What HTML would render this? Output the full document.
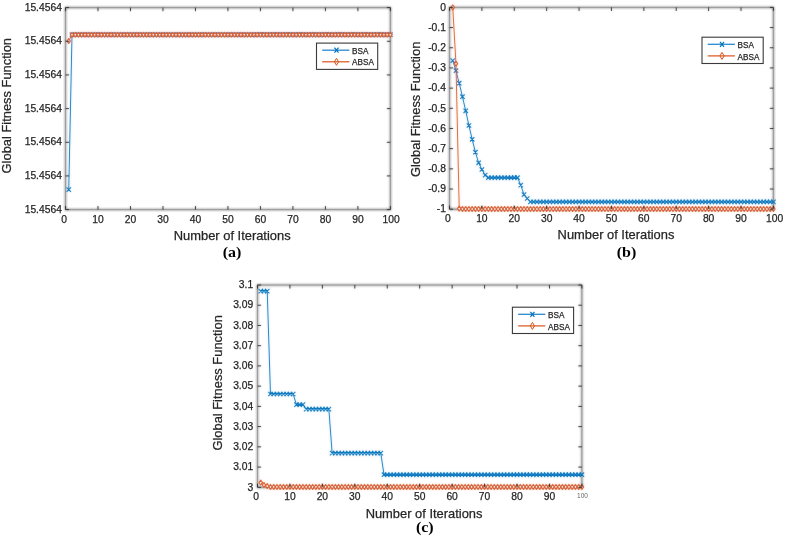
<!DOCTYPE html>
<html><head><meta charset="utf-8"><title>Global fitness convergence plots</title>
<style>html,body{margin:0;padding:0;background:#fff;width:785px;height:537px;overflow:hidden}
svg{display:block}</style></head>
<body><svg width="785" height="537" viewBox="0 0 785 537" font-family="'Liberation Sans', Arial, Helvetica, sans-serif">
<defs><filter id="fa" x="0" y="0" width="785" height="537" filterUnits="userSpaceOnUse"><feGaussianBlur in="SourceGraphic" stdDeviation="0.8" result="b"/><feComposite in="SourceGraphic" in2="b" operator="arithmetic" k1="0" k2="0.2" k3="0.8" k4="0"/></filter><filter id="fd" x="0" y="0" width="785" height="537" filterUnits="userSpaceOnUse"><feGaussianBlur in="SourceGraphic" stdDeviation="0.8" result="b"/><feComposite in="SourceGraphic" in2="b" operator="arithmetic" k1="0" k2="0.75" k3="0.25" k4="0"/></filter></defs>
<rect width="785" height="537" fill="#fff"/>
<g filter="url(#fa)">
<path d="M65.5 7.6H390.4V209.6H65.5Z" fill="none" stroke="#262626" stroke-width="1"/>
<path d="M449.5 7.4H773.4V209.2H449.5Z" fill="none" stroke="#262626" stroke-width="1"/>
<path d="M257.5 285H581.9V487.3H257.5Z" fill="none" stroke="#262626" stroke-width="1"/>
</g>
<g filter="url(#fd)">
<polyline points="68.75,189.6 72,34.7 75.25,34.7 78.5,34.7 81.75,34.7 84.99,34.7 88.24,34.7 91.49,34.7 94.74,34.7 97.99,34.7 101.24,34.7 104.49,34.7 107.74,34.7 110.99,34.7 114.23,34.7 117.48,34.7 120.73,34.7 123.98,34.7 127.23,34.7 130.48,34.7 133.73,34.7 136.98,34.7 140.23,34.7 143.48,34.7 146.72,34.7 149.97,34.7 153.22,34.7 156.47,34.7 159.72,34.7 162.97,34.7 166.22,34.7 169.47,34.7 172.72,34.7 175.97,34.7 179.22,34.7 182.46,34.7 185.71,34.7 188.96,34.7 192.21,34.7 195.46,34.7 198.71,34.7 201.96,34.7 205.21,34.7 208.46,34.7 211.7,34.7 214.95,34.7 218.2,34.7 221.45,34.7 224.7,34.7 227.95,34.7 231.2,34.7 234.45,34.7 237.7,34.7 240.95,34.7 244.19,34.7 247.44,34.7 250.69,34.7 253.94,34.7 257.19,34.7 260.44,34.7 263.69,34.7 266.94,34.7 270.19,34.7 273.44,34.7 276.69,34.7 279.93,34.7 283.18,34.7 286.43,34.7 289.68,34.7 292.93,34.7 296.18,34.7 299.43,34.7 302.68,34.7 305.93,34.7 309.18,34.7 312.42,34.7 315.67,34.7 318.92,34.7 322.17,34.7 325.42,34.7 328.67,34.7 331.92,34.7 335.17,34.7 338.42,34.7 341.66,34.7 344.91,34.7 348.16,34.7 351.41,34.7 354.66,34.7 357.91,34.7 361.16,34.7 364.41,34.7 367.66,34.7 370.91,34.7 374.15,34.7 377.4,34.7 380.65,34.7 383.9,34.7 387.15,34.7 390.4,34.7" fill="none" stroke="#0072BD" stroke-width="1" stroke-linejoin="round"/>
<path d="M66.55 187.4L70.95 191.8M66.55 191.8L70.95 187.4M69.8 32.5L74.2 36.9M69.8 36.9L74.2 32.5M73.05 32.5L77.45 36.9M73.05 36.9L77.45 32.5M76.3 32.5L80.7 36.9M76.3 36.9L80.7 32.5M79.55 32.5L83.95 36.9M79.55 36.9L83.95 32.5M82.79 32.5L87.19 36.9M82.79 36.9L87.19 32.5M86.04 32.5L90.44 36.9M86.04 36.9L90.44 32.5M89.29 32.5L93.69 36.9M89.29 36.9L93.69 32.5M92.54 32.5L96.94 36.9M92.54 36.9L96.94 32.5M95.79 32.5L100.19 36.9M95.79 36.9L100.19 32.5M99.04 32.5L103.44 36.9M99.04 36.9L103.44 32.5M102.29 32.5L106.69 36.9M102.29 36.9L106.69 32.5M105.54 32.5L109.94 36.9M105.54 36.9L109.94 32.5M108.79 32.5L113.19 36.9M108.79 36.9L113.19 32.5M112.03 32.5L116.44 36.9M112.03 36.9L116.44 32.5M115.28 32.5L119.68 36.9M115.28 36.9L119.68 32.5M118.53 32.5L122.93 36.9M118.53 36.9L122.93 32.5M121.78 32.5L126.18 36.9M121.78 36.9L126.18 32.5M125.03 32.5L129.43 36.9M125.03 36.9L129.43 32.5M128.28 32.5L132.68 36.9M128.28 36.9L132.68 32.5M131.53 32.5L135.93 36.9M131.53 36.9L135.93 32.5M134.78 32.5L139.18 36.9M134.78 36.9L139.18 32.5M138.03 32.5L142.43 36.9M138.03 36.9L142.43 32.5M141.28 32.5L145.68 36.9M141.28 36.9L145.68 32.5M144.53 32.5L148.92 36.9M144.53 36.9L148.92 32.5M147.77 32.5L152.17 36.9M147.77 36.9L152.17 32.5M151.02 32.5L155.42 36.9M151.02 36.9L155.42 32.5M154.27 32.5L158.67 36.9M154.27 36.9L158.67 32.5M157.52 32.5L161.92 36.9M157.52 36.9L161.92 32.5M160.77 32.5L165.17 36.9M160.77 36.9L165.17 32.5M164.02 32.5L168.42 36.9M164.02 36.9L168.42 32.5M167.27 32.5L171.67 36.9M167.27 36.9L171.67 32.5M170.52 32.5L174.92 36.9M170.52 36.9L174.92 32.5M173.77 32.5L178.17 36.9M173.77 36.9L178.17 32.5M177.02 32.5L181.41 36.9M177.02 36.9L181.41 32.5M180.26 32.5L184.66 36.9M180.26 36.9L184.66 32.5M183.51 32.5L187.91 36.9M183.51 36.9L187.91 32.5M186.76 32.5L191.16 36.9M186.76 36.9L191.16 32.5M190.01 32.5L194.41 36.9M190.01 36.9L194.41 32.5M193.26 32.5L197.66 36.9M193.26 36.9L197.66 32.5M196.51 32.5L200.91 36.9M196.51 36.9L200.91 32.5M199.76 32.5L204.16 36.9M199.76 36.9L204.16 32.5M203.01 32.5L207.41 36.9M203.01 36.9L207.41 32.5M206.26 32.5L210.66 36.9M206.26 36.9L210.66 32.5M209.5 32.5L213.9 36.9M209.5 36.9L213.9 32.5M212.75 32.5L217.15 36.9M212.75 36.9L217.15 32.5M216 32.5L220.4 36.9M216 36.9L220.4 32.5M219.25 32.5L223.65 36.9M219.25 36.9L223.65 32.5M222.5 32.5L226.9 36.9M222.5 36.9L226.9 32.5M225.75 32.5L230.15 36.9M225.75 36.9L230.15 32.5M229 32.5L233.4 36.9M229 36.9L233.4 32.5M232.25 32.5L236.65 36.9M232.25 36.9L236.65 32.5M235.5 32.5L239.9 36.9M235.5 36.9L239.9 32.5M238.75 32.5L243.15 36.9M238.75 36.9L243.15 32.5M242 32.5L246.39 36.9M242 36.9L246.39 32.5M245.24 32.5L249.64 36.9M245.24 36.9L249.64 32.5M248.49 32.5L252.89 36.9M248.49 36.9L252.89 32.5M251.74 32.5L256.14 36.9M251.74 36.9L256.14 32.5M254.99 32.5L259.39 36.9M254.99 36.9L259.39 32.5M258.24 32.5L262.64 36.9M258.24 36.9L262.64 32.5M261.49 32.5L265.89 36.9M261.49 36.9L265.89 32.5M264.74 32.5L269.14 36.9M264.74 36.9L269.14 32.5M267.99 32.5L272.39 36.9M267.99 36.9L272.39 32.5M271.24 32.5L275.64 36.9M271.24 36.9L275.64 32.5M274.49 32.5L278.88 36.9M274.49 36.9L278.88 32.5M277.73 32.5L282.13 36.9M277.73 36.9L282.13 32.5M280.98 32.5L285.38 36.9M280.98 36.9L285.38 32.5M284.23 32.5L288.63 36.9M284.23 36.9L288.63 32.5M287.48 32.5L291.88 36.9M287.48 36.9L291.88 32.5M290.73 32.5L295.13 36.9M290.73 36.9L295.13 32.5M293.98 32.5L298.38 36.9M293.98 36.9L298.38 32.5M297.23 32.5L301.63 36.9M297.23 36.9L301.63 32.5M300.48 32.5L304.88 36.9M300.48 36.9L304.88 32.5M303.73 32.5L308.13 36.9M303.73 36.9L308.13 32.5M306.98 32.5L311.38 36.9M306.98 36.9L311.38 32.5M310.22 32.5L314.62 36.9M310.22 36.9L314.62 32.5M313.47 32.5L317.87 36.9M313.47 36.9L317.87 32.5M316.72 32.5L321.12 36.9M316.72 36.9L321.12 32.5M319.97 32.5L324.37 36.9M319.97 36.9L324.37 32.5M323.22 32.5L327.62 36.9M323.22 36.9L327.62 32.5M326.47 32.5L330.87 36.9M326.47 36.9L330.87 32.5M329.72 32.5L334.12 36.9M329.72 36.9L334.12 32.5M332.97 32.5L337.37 36.9M332.97 36.9L337.37 32.5M336.22 32.5L340.62 36.9M336.22 36.9L340.62 32.5M339.46 32.5L343.86 36.9M339.46 36.9L343.86 32.5M342.71 32.5L347.11 36.9M342.71 36.9L347.11 32.5M345.96 32.5L350.36 36.9M345.96 36.9L350.36 32.5M349.21 32.5L353.61 36.9M349.21 36.9L353.61 32.5M352.46 32.5L356.86 36.9M352.46 36.9L356.86 32.5M355.71 32.5L360.11 36.9M355.71 36.9L360.11 32.5M358.96 32.5L363.36 36.9M358.96 36.9L363.36 32.5M362.21 32.5L366.61 36.9M362.21 36.9L366.61 32.5M365.46 32.5L369.86 36.9M365.46 36.9L369.86 32.5M368.71 32.5L373.11 36.9M368.71 36.9L373.11 32.5M371.95 32.5L376.35 36.9M371.95 36.9L376.35 32.5M375.2 32.5L379.6 36.9M375.2 36.9L379.6 32.5M378.45 32.5L382.85 36.9M378.45 36.9L382.85 32.5M381.7 32.5L386.1 36.9M381.7 36.9L386.1 32.5M384.95 32.5L389.35 36.9M384.95 36.9L389.35 32.5M388.2 32.5L392.6 36.9M388.2 36.9L392.6 32.5" fill="none" stroke="#0072BD" stroke-width="1.15"/>
<polyline points="68.75,41 72,34.7 75.25,34.7 78.5,34.7 81.75,34.7 84.99,34.7 88.24,34.7 91.49,34.7 94.74,34.7 97.99,34.7 101.24,34.7 104.49,34.7 107.74,34.7 110.99,34.7 114.23,34.7 117.48,34.7 120.73,34.7 123.98,34.7 127.23,34.7 130.48,34.7 133.73,34.7 136.98,34.7 140.23,34.7 143.48,34.7 146.72,34.7 149.97,34.7 153.22,34.7 156.47,34.7 159.72,34.7 162.97,34.7 166.22,34.7 169.47,34.7 172.72,34.7 175.97,34.7 179.22,34.7 182.46,34.7 185.71,34.7 188.96,34.7 192.21,34.7 195.46,34.7 198.71,34.7 201.96,34.7 205.21,34.7 208.46,34.7 211.7,34.7 214.95,34.7 218.2,34.7 221.45,34.7 224.7,34.7 227.95,34.7 231.2,34.7 234.45,34.7 237.7,34.7 240.95,34.7 244.19,34.7 247.44,34.7 250.69,34.7 253.94,34.7 257.19,34.7 260.44,34.7 263.69,34.7 266.94,34.7 270.19,34.7 273.44,34.7 276.69,34.7 279.93,34.7 283.18,34.7 286.43,34.7 289.68,34.7 292.93,34.7 296.18,34.7 299.43,34.7 302.68,34.7 305.93,34.7 309.18,34.7 312.42,34.7 315.67,34.7 318.92,34.7 322.17,34.7 325.42,34.7 328.67,34.7 331.92,34.7 335.17,34.7 338.42,34.7 341.66,34.7 344.91,34.7 348.16,34.7 351.41,34.7 354.66,34.7 357.91,34.7 361.16,34.7 364.41,34.7 367.66,34.7 370.91,34.7 374.15,34.7 377.4,34.7 380.65,34.7 383.9,34.7 387.15,34.7 390.4,34.7" fill="none" stroke="#D95319" stroke-width="1" stroke-linejoin="round"/>
<g fill="#fff" stroke="#D95319" stroke-width="1.2" stroke-linejoin="round"><path d="M68.75 38.6l1.7 2.4l-1.7 2.4l-1.7 -2.4z"/><path d="M72 32.3l1.7 2.4l-1.7 2.4l-1.7 -2.4z"/><path d="M75.25 32.3l1.7 2.4l-1.7 2.4l-1.7 -2.4z"/><path d="M78.5 32.3l1.7 2.4l-1.7 2.4l-1.7 -2.4z"/><path d="M81.75 32.3l1.7 2.4l-1.7 2.4l-1.7 -2.4z"/><path d="M84.99 32.3l1.7 2.4l-1.7 2.4l-1.7 -2.4z"/><path d="M88.24 32.3l1.7 2.4l-1.7 2.4l-1.7 -2.4z"/><path d="M91.49 32.3l1.7 2.4l-1.7 2.4l-1.7 -2.4z"/><path d="M94.74 32.3l1.7 2.4l-1.7 2.4l-1.7 -2.4z"/><path d="M97.99 32.3l1.7 2.4l-1.7 2.4l-1.7 -2.4z"/><path d="M101.24 32.3l1.7 2.4l-1.7 2.4l-1.7 -2.4z"/><path d="M104.49 32.3l1.7 2.4l-1.7 2.4l-1.7 -2.4z"/><path d="M107.74 32.3l1.7 2.4l-1.7 2.4l-1.7 -2.4z"/><path d="M110.99 32.3l1.7 2.4l-1.7 2.4l-1.7 -2.4z"/><path d="M114.23 32.3l1.7 2.4l-1.7 2.4l-1.7 -2.4z"/><path d="M117.48 32.3l1.7 2.4l-1.7 2.4l-1.7 -2.4z"/><path d="M120.73 32.3l1.7 2.4l-1.7 2.4l-1.7 -2.4z"/><path d="M123.98 32.3l1.7 2.4l-1.7 2.4l-1.7 -2.4z"/><path d="M127.23 32.3l1.7 2.4l-1.7 2.4l-1.7 -2.4z"/><path d="M130.48 32.3l1.7 2.4l-1.7 2.4l-1.7 -2.4z"/><path d="M133.73 32.3l1.7 2.4l-1.7 2.4l-1.7 -2.4z"/><path d="M136.98 32.3l1.7 2.4l-1.7 2.4l-1.7 -2.4z"/><path d="M140.23 32.3l1.7 2.4l-1.7 2.4l-1.7 -2.4z"/><path d="M143.48 32.3l1.7 2.4l-1.7 2.4l-1.7 -2.4z"/><path d="M146.72 32.3l1.7 2.4l-1.7 2.4l-1.7 -2.4z"/><path d="M149.97 32.3l1.7 2.4l-1.7 2.4l-1.7 -2.4z"/><path d="M153.22 32.3l1.7 2.4l-1.7 2.4l-1.7 -2.4z"/><path d="M156.47 32.3l1.7 2.4l-1.7 2.4l-1.7 -2.4z"/><path d="M159.72 32.3l1.7 2.4l-1.7 2.4l-1.7 -2.4z"/><path d="M162.97 32.3l1.7 2.4l-1.7 2.4l-1.7 -2.4z"/><path d="M166.22 32.3l1.7 2.4l-1.7 2.4l-1.7 -2.4z"/><path d="M169.47 32.3l1.7 2.4l-1.7 2.4l-1.7 -2.4z"/><path d="M172.72 32.3l1.7 2.4l-1.7 2.4l-1.7 -2.4z"/><path d="M175.97 32.3l1.7 2.4l-1.7 2.4l-1.7 -2.4z"/><path d="M179.22 32.3l1.7 2.4l-1.7 2.4l-1.7 -2.4z"/><path d="M182.46 32.3l1.7 2.4l-1.7 2.4l-1.7 -2.4z"/><path d="M185.71 32.3l1.7 2.4l-1.7 2.4l-1.7 -2.4z"/><path d="M188.96 32.3l1.7 2.4l-1.7 2.4l-1.7 -2.4z"/><path d="M192.21 32.3l1.7 2.4l-1.7 2.4l-1.7 -2.4z"/><path d="M195.46 32.3l1.7 2.4l-1.7 2.4l-1.7 -2.4z"/><path d="M198.71 32.3l1.7 2.4l-1.7 2.4l-1.7 -2.4z"/><path d="M201.96 32.3l1.7 2.4l-1.7 2.4l-1.7 -2.4z"/><path d="M205.21 32.3l1.7 2.4l-1.7 2.4l-1.7 -2.4z"/><path d="M208.46 32.3l1.7 2.4l-1.7 2.4l-1.7 -2.4z"/><path d="M211.7 32.3l1.7 2.4l-1.7 2.4l-1.7 -2.4z"/><path d="M214.95 32.3l1.7 2.4l-1.7 2.4l-1.7 -2.4z"/><path d="M218.2 32.3l1.7 2.4l-1.7 2.4l-1.7 -2.4z"/><path d="M221.45 32.3l1.7 2.4l-1.7 2.4l-1.7 -2.4z"/><path d="M224.7 32.3l1.7 2.4l-1.7 2.4l-1.7 -2.4z"/><path d="M227.95 32.3l1.7 2.4l-1.7 2.4l-1.7 -2.4z"/><path d="M231.2 32.3l1.7 2.4l-1.7 2.4l-1.7 -2.4z"/><path d="M234.45 32.3l1.7 2.4l-1.7 2.4l-1.7 -2.4z"/><path d="M237.7 32.3l1.7 2.4l-1.7 2.4l-1.7 -2.4z"/><path d="M240.95 32.3l1.7 2.4l-1.7 2.4l-1.7 -2.4z"/><path d="M244.19 32.3l1.7 2.4l-1.7 2.4l-1.7 -2.4z"/><path d="M247.44 32.3l1.7 2.4l-1.7 2.4l-1.7 -2.4z"/><path d="M250.69 32.3l1.7 2.4l-1.7 2.4l-1.7 -2.4z"/><path d="M253.94 32.3l1.7 2.4l-1.7 2.4l-1.7 -2.4z"/><path d="M257.19 32.3l1.7 2.4l-1.7 2.4l-1.7 -2.4z"/><path d="M260.44 32.3l1.7 2.4l-1.7 2.4l-1.7 -2.4z"/><path d="M263.69 32.3l1.7 2.4l-1.7 2.4l-1.7 -2.4z"/><path d="M266.94 32.3l1.7 2.4l-1.7 2.4l-1.7 -2.4z"/><path d="M270.19 32.3l1.7 2.4l-1.7 2.4l-1.7 -2.4z"/><path d="M273.44 32.3l1.7 2.4l-1.7 2.4l-1.7 -2.4z"/><path d="M276.69 32.3l1.7 2.4l-1.7 2.4l-1.7 -2.4z"/><path d="M279.93 32.3l1.7 2.4l-1.7 2.4l-1.7 -2.4z"/><path d="M283.18 32.3l1.7 2.4l-1.7 2.4l-1.7 -2.4z"/><path d="M286.43 32.3l1.7 2.4l-1.7 2.4l-1.7 -2.4z"/><path d="M289.68 32.3l1.7 2.4l-1.7 2.4l-1.7 -2.4z"/><path d="M292.93 32.3l1.7 2.4l-1.7 2.4l-1.7 -2.4z"/><path d="M296.18 32.3l1.7 2.4l-1.7 2.4l-1.7 -2.4z"/><path d="M299.43 32.3l1.7 2.4l-1.7 2.4l-1.7 -2.4z"/><path d="M302.68 32.3l1.7 2.4l-1.7 2.4l-1.7 -2.4z"/><path d="M305.93 32.3l1.7 2.4l-1.7 2.4l-1.7 -2.4z"/><path d="M309.18 32.3l1.7 2.4l-1.7 2.4l-1.7 -2.4z"/><path d="M312.42 32.3l1.7 2.4l-1.7 2.4l-1.7 -2.4z"/><path d="M315.67 32.3l1.7 2.4l-1.7 2.4l-1.7 -2.4z"/><path d="M318.92 32.3l1.7 2.4l-1.7 2.4l-1.7 -2.4z"/><path d="M322.17 32.3l1.7 2.4l-1.7 2.4l-1.7 -2.4z"/><path d="M325.42 32.3l1.7 2.4l-1.7 2.4l-1.7 -2.4z"/><path d="M328.67 32.3l1.7 2.4l-1.7 2.4l-1.7 -2.4z"/><path d="M331.92 32.3l1.7 2.4l-1.7 2.4l-1.7 -2.4z"/><path d="M335.17 32.3l1.7 2.4l-1.7 2.4l-1.7 -2.4z"/><path d="M338.42 32.3l1.7 2.4l-1.7 2.4l-1.7 -2.4z"/><path d="M341.66 32.3l1.7 2.4l-1.7 2.4l-1.7 -2.4z"/><path d="M344.91 32.3l1.7 2.4l-1.7 2.4l-1.7 -2.4z"/><path d="M348.16 32.3l1.7 2.4l-1.7 2.4l-1.7 -2.4z"/><path d="M351.41 32.3l1.7 2.4l-1.7 2.4l-1.7 -2.4z"/><path d="M354.66 32.3l1.7 2.4l-1.7 2.4l-1.7 -2.4z"/><path d="M357.91 32.3l1.7 2.4l-1.7 2.4l-1.7 -2.4z"/><path d="M361.16 32.3l1.7 2.4l-1.7 2.4l-1.7 -2.4z"/><path d="M364.41 32.3l1.7 2.4l-1.7 2.4l-1.7 -2.4z"/><path d="M367.66 32.3l1.7 2.4l-1.7 2.4l-1.7 -2.4z"/><path d="M370.91 32.3l1.7 2.4l-1.7 2.4l-1.7 -2.4z"/><path d="M374.15 32.3l1.7 2.4l-1.7 2.4l-1.7 -2.4z"/><path d="M377.4 32.3l1.7 2.4l-1.7 2.4l-1.7 -2.4z"/><path d="M380.65 32.3l1.7 2.4l-1.7 2.4l-1.7 -2.4z"/><path d="M383.9 32.3l1.7 2.4l-1.7 2.4l-1.7 -2.4z"/><path d="M387.15 32.3l1.7 2.4l-1.7 2.4l-1.7 -2.4z"/><path d="M390.4 32.3l1.7 2.4l-1.7 2.4l-1.7 -2.4z"/></g>
<polyline points="452.74,60.6 455.98,70.7 459.22,83.2 462.46,96.7 465.69,110.8 468.93,125.5 472.17,139.3 475.41,152.2 478.65,162.8 481.89,169.5 485.13,175.1 488.37,177.7 491.61,177.7 494.85,177.7 498.08,177.7 501.32,177.7 504.56,177.7 507.8,177.7 511.04,177.7 514.28,177.7 517.52,177.7 520.76,185.1 524,194.6 527.24,198.5 530.48,201.9 533.71,201.9 536.95,201.9 540.19,201.9 543.43,201.9 546.67,201.9 549.91,201.9 553.15,201.9 556.39,201.9 559.63,201.9 562.87,201.9 566.1,201.9 569.34,201.9 572.58,201.9 575.82,201.9 579.06,201.9 582.3,201.9 585.54,201.9 588.78,201.9 592.02,201.9 595.25,201.9 598.49,201.9 601.73,201.9 604.97,201.9 608.21,201.9 611.45,201.9 614.69,201.9 617.93,201.9 621.17,201.9 624.41,201.9 627.64,201.9 630.88,201.9 634.12,201.9 637.36,201.9 640.6,201.9 643.84,201.9 647.08,201.9 650.32,201.9 653.56,201.9 656.8,201.9 660.03,201.9 663.27,201.9 666.51,201.9 669.75,201.9 672.99,201.9 676.23,201.9 679.47,201.9 682.71,201.9 685.95,201.9 689.19,201.9 692.42,201.9 695.66,201.9 698.9,201.9 702.14,201.9 705.38,201.9 708.62,201.9 711.86,201.9 715.1,201.9 718.34,201.9 721.58,201.9 724.81,201.9 728.05,201.9 731.29,201.9 734.53,201.9 737.77,201.9 741.01,201.9 744.25,201.9 747.49,201.9 750.73,201.9 753.97,201.9 757.2,201.9 760.44,201.9 763.68,201.9 766.92,201.9 770.16,201.9 773.4,201.9" fill="none" stroke="#0072BD" stroke-width="1" stroke-linejoin="round"/>
<path d="M450.54 58.4L454.94 62.8M450.54 62.8L454.94 58.4M453.78 68.5L458.18 72.9M453.78 72.9L458.18 68.5M457.02 81L461.42 85.4M457.02 85.4L461.42 81M460.26 94.5L464.66 98.9M460.26 98.9L464.66 94.5M463.5 108.6L467.89 113M463.5 113L467.89 108.6M466.73 123.3L471.13 127.7M466.73 127.7L471.13 123.3M469.97 137.1L474.37 141.5M469.97 141.5L474.37 137.1M473.21 150L477.61 154.4M473.21 154.4L477.61 150M476.45 160.6L480.85 165M476.45 165L480.85 160.6M479.69 167.3L484.09 171.7M479.69 171.7L484.09 167.3M482.93 172.9L487.33 177.3M482.93 177.3L487.33 172.9M486.17 175.5L490.57 179.9M486.17 179.9L490.57 175.5M489.41 175.5L493.81 179.9M489.41 179.9L493.81 175.5M492.65 175.5L497.05 179.9M492.65 179.9L497.05 175.5M495.88 175.5L500.28 179.9M495.88 179.9L500.28 175.5M499.12 175.5L503.52 179.9M499.12 179.9L503.52 175.5M502.36 175.5L506.76 179.9M502.36 179.9L506.76 175.5M505.6 175.5L510 179.9M505.6 179.9L510 175.5M508.84 175.5L513.24 179.9M508.84 179.9L513.24 175.5M512.08 175.5L516.48 179.9M512.08 179.9L516.48 175.5M515.32 175.5L519.72 179.9M515.32 179.9L519.72 175.5M518.56 182.9L522.96 187.3M518.56 187.3L522.96 182.9M521.8 192.4L526.2 196.8M521.8 196.8L526.2 192.4M525.04 196.3L529.44 200.7M525.04 200.7L529.44 196.3M528.27 199.7L532.68 204.1M528.27 204.1L532.68 199.7M531.51 199.7L535.91 204.1M531.51 204.1L535.91 199.7M534.75 199.7L539.15 204.1M534.75 204.1L539.15 199.7M537.99 199.7L542.39 204.1M537.99 204.1L542.39 199.7M541.23 199.7L545.63 204.1M541.23 204.1L545.63 199.7M544.47 199.7L548.87 204.1M544.47 204.1L548.87 199.7M547.71 199.7L552.11 204.1M547.71 204.1L552.11 199.7M550.95 199.7L555.35 204.1M550.95 204.1L555.35 199.7M554.19 199.7L558.59 204.1M554.19 204.1L558.59 199.7M557.43 199.7L561.83 204.1M557.43 204.1L561.83 199.7M560.66 199.7L565.07 204.1M560.66 204.1L565.07 199.7M563.9 199.7L568.3 204.1M563.9 204.1L568.3 199.7M567.14 199.7L571.54 204.1M567.14 204.1L571.54 199.7M570.38 199.7L574.78 204.1M570.38 204.1L574.78 199.7M573.62 199.7L578.02 204.1M573.62 204.1L578.02 199.7M576.86 199.7L581.26 204.1M576.86 204.1L581.26 199.7M580.1 199.7L584.5 204.1M580.1 204.1L584.5 199.7M583.34 199.7L587.74 204.1M583.34 204.1L587.74 199.7M586.58 199.7L590.98 204.1M586.58 204.1L590.98 199.7M589.82 199.7L594.22 204.1M589.82 204.1L594.22 199.7M593.05 199.7L597.46 204.1M593.05 204.1L597.46 199.7M596.29 199.7L600.69 204.1M596.29 204.1L600.69 199.7M599.53 199.7L603.93 204.1M599.53 204.1L603.93 199.7M602.77 199.7L607.17 204.1M602.77 204.1L607.17 199.7M606.01 199.7L610.41 204.1M606.01 204.1L610.41 199.7M609.25 199.7L613.65 204.1M609.25 204.1L613.65 199.7M612.49 199.7L616.89 204.1M612.49 204.1L616.89 199.7M615.73 199.7L620.13 204.1M615.73 204.1L620.13 199.7M618.97 199.7L623.37 204.1M618.97 204.1L623.37 199.7M622.21 199.7L626.61 204.1M622.21 204.1L626.61 199.7M625.44 199.7L629.85 204.1M625.44 204.1L629.85 199.7M628.68 199.7L633.08 204.1M628.68 204.1L633.08 199.7M631.92 199.7L636.32 204.1M631.92 204.1L636.32 199.7M635.16 199.7L639.56 204.1M635.16 204.1L639.56 199.7M638.4 199.7L642.8 204.1M638.4 204.1L642.8 199.7M641.64 199.7L646.04 204.1M641.64 204.1L646.04 199.7M644.88 199.7L649.28 204.1M644.88 204.1L649.28 199.7M648.12 199.7L652.52 204.1M648.12 204.1L652.52 199.7M651.36 199.7L655.76 204.1M651.36 204.1L655.76 199.7M654.6 199.7L659 204.1M654.6 204.1L659 199.7M657.83 199.7L662.24 204.1M657.83 204.1L662.24 199.7M661.07 199.7L665.47 204.1M661.07 204.1L665.47 199.7M664.31 199.7L668.71 204.1M664.31 204.1L668.71 199.7M667.55 199.7L671.95 204.1M667.55 204.1L671.95 199.7M670.79 199.7L675.19 204.1M670.79 204.1L675.19 199.7M674.03 199.7L678.43 204.1M674.03 204.1L678.43 199.7M677.27 199.7L681.67 204.1M677.27 204.1L681.67 199.7M680.51 199.7L684.91 204.1M680.51 204.1L684.91 199.7M683.75 199.7L688.15 204.1M683.75 204.1L688.15 199.7M686.99 199.7L691.39 204.1M686.99 204.1L691.39 199.7M690.22 199.7L694.62 204.1M690.22 204.1L694.62 199.7M693.46 199.7L697.86 204.1M693.46 204.1L697.86 199.7M696.7 199.7L701.1 204.1M696.7 204.1L701.1 199.7M699.94 199.7L704.34 204.1M699.94 204.1L704.34 199.7M703.18 199.7L707.58 204.1M703.18 204.1L707.58 199.7M706.42 199.7L710.82 204.1M706.42 204.1L710.82 199.7M709.66 199.7L714.06 204.1M709.66 204.1L714.06 199.7M712.9 199.7L717.3 204.1M712.9 204.1L717.3 199.7M716.14 199.7L720.54 204.1M716.14 204.1L720.54 199.7M719.38 199.7L723.78 204.1M719.38 204.1L723.78 199.7M722.61 199.7L727.01 204.1M722.61 204.1L727.01 199.7M725.85 199.7L730.25 204.1M725.85 204.1L730.25 199.7M729.09 199.7L733.49 204.1M729.09 204.1L733.49 199.7M732.33 199.7L736.73 204.1M732.33 204.1L736.73 199.7M735.57 199.7L739.97 204.1M735.57 204.1L739.97 199.7M738.81 199.7L743.21 204.1M738.81 204.1L743.21 199.7M742.05 199.7L746.45 204.1M742.05 204.1L746.45 199.7M745.29 199.7L749.69 204.1M745.29 204.1L749.69 199.7M748.53 199.7L752.93 204.1M748.53 204.1L752.93 199.7M751.77 199.7L756.17 204.1M751.77 204.1L756.17 199.7M755 199.7L759.4 204.1M755 204.1L759.4 199.7M758.24 199.7L762.64 204.1M758.24 204.1L762.64 199.7M761.48 199.7L765.88 204.1M761.48 204.1L765.88 199.7M764.72 199.7L769.12 204.1M764.72 204.1L769.12 199.7M767.96 199.7L772.36 204.1M767.96 204.1L772.36 199.7M771.2 199.7L775.6 204.1M771.2 204.1L775.6 199.7" fill="none" stroke="#0072BD" stroke-width="1.15"/>
<polyline points="452.74,7.4 455.98,63.7 459.22,208.6 462.46,209 465.69,209 468.93,209 472.17,209 475.41,209 478.65,209 481.89,209 485.13,209 488.37,209 491.61,209 494.85,209 498.08,209 501.32,209 504.56,209 507.8,209 511.04,209 514.28,209 517.52,209 520.76,209 524,209 527.24,209 530.48,209 533.71,209 536.95,209 540.19,209 543.43,209 546.67,209 549.91,209 553.15,209 556.39,209 559.63,209 562.87,209 566.1,209 569.34,209 572.58,209 575.82,209 579.06,209 582.3,209 585.54,209 588.78,209 592.02,209 595.25,209 598.49,209 601.73,209 604.97,209 608.21,209 611.45,209 614.69,209 617.93,209 621.17,209 624.41,209 627.64,209 630.88,209 634.12,209 637.36,209 640.6,209 643.84,209 647.08,209 650.32,209 653.56,209 656.8,209 660.03,209 663.27,209 666.51,209 669.75,209 672.99,209 676.23,209 679.47,209 682.71,209 685.95,209 689.19,209 692.42,209 695.66,209 698.9,209 702.14,209 705.38,209 708.62,209 711.86,209 715.1,209 718.34,209 721.58,209 724.81,209 728.05,209 731.29,209 734.53,209 737.77,209 741.01,209 744.25,209 747.49,209 750.73,209 753.97,209 757.2,209 760.44,209 763.68,209 766.92,209 770.16,209 773.4,209" fill="none" stroke="#D95319" stroke-width="1" stroke-linejoin="round"/>
<g fill="#fff" stroke="#D95319" stroke-width="1.2" stroke-linejoin="round"><path d="M452.74 5l1.7 2.4l-1.7 2.4l-1.7 -2.4z"/><path d="M455.98 61.3l1.7 2.4l-1.7 2.4l-1.7 -2.4z"/><path d="M459.22 206.2l1.7 2.4l-1.7 2.4l-1.7 -2.4z"/><path d="M462.46 206.6l1.7 2.4l-1.7 2.4l-1.7 -2.4z"/><path d="M465.69 206.6l1.7 2.4l-1.7 2.4l-1.7 -2.4z"/><path d="M468.93 206.6l1.7 2.4l-1.7 2.4l-1.7 -2.4z"/><path d="M472.17 206.6l1.7 2.4l-1.7 2.4l-1.7 -2.4z"/><path d="M475.41 206.6l1.7 2.4l-1.7 2.4l-1.7 -2.4z"/><path d="M478.65 206.6l1.7 2.4l-1.7 2.4l-1.7 -2.4z"/><path d="M481.89 206.6l1.7 2.4l-1.7 2.4l-1.7 -2.4z"/><path d="M485.13 206.6l1.7 2.4l-1.7 2.4l-1.7 -2.4z"/><path d="M488.37 206.6l1.7 2.4l-1.7 2.4l-1.7 -2.4z"/><path d="M491.61 206.6l1.7 2.4l-1.7 2.4l-1.7 -2.4z"/><path d="M494.85 206.6l1.7 2.4l-1.7 2.4l-1.7 -2.4z"/><path d="M498.08 206.6l1.7 2.4l-1.7 2.4l-1.7 -2.4z"/><path d="M501.32 206.6l1.7 2.4l-1.7 2.4l-1.7 -2.4z"/><path d="M504.56 206.6l1.7 2.4l-1.7 2.4l-1.7 -2.4z"/><path d="M507.8 206.6l1.7 2.4l-1.7 2.4l-1.7 -2.4z"/><path d="M511.04 206.6l1.7 2.4l-1.7 2.4l-1.7 -2.4z"/><path d="M514.28 206.6l1.7 2.4l-1.7 2.4l-1.7 -2.4z"/><path d="M517.52 206.6l1.7 2.4l-1.7 2.4l-1.7 -2.4z"/><path d="M520.76 206.6l1.7 2.4l-1.7 2.4l-1.7 -2.4z"/><path d="M524 206.6l1.7 2.4l-1.7 2.4l-1.7 -2.4z"/><path d="M527.24 206.6l1.7 2.4l-1.7 2.4l-1.7 -2.4z"/><path d="M530.48 206.6l1.7 2.4l-1.7 2.4l-1.7 -2.4z"/><path d="M533.71 206.6l1.7 2.4l-1.7 2.4l-1.7 -2.4z"/><path d="M536.95 206.6l1.7 2.4l-1.7 2.4l-1.7 -2.4z"/><path d="M540.19 206.6l1.7 2.4l-1.7 2.4l-1.7 -2.4z"/><path d="M543.43 206.6l1.7 2.4l-1.7 2.4l-1.7 -2.4z"/><path d="M546.67 206.6l1.7 2.4l-1.7 2.4l-1.7 -2.4z"/><path d="M549.91 206.6l1.7 2.4l-1.7 2.4l-1.7 -2.4z"/><path d="M553.15 206.6l1.7 2.4l-1.7 2.4l-1.7 -2.4z"/><path d="M556.39 206.6l1.7 2.4l-1.7 2.4l-1.7 -2.4z"/><path d="M559.63 206.6l1.7 2.4l-1.7 2.4l-1.7 -2.4z"/><path d="M562.87 206.6l1.7 2.4l-1.7 2.4l-1.7 -2.4z"/><path d="M566.1 206.6l1.7 2.4l-1.7 2.4l-1.7 -2.4z"/><path d="M569.34 206.6l1.7 2.4l-1.7 2.4l-1.7 -2.4z"/><path d="M572.58 206.6l1.7 2.4l-1.7 2.4l-1.7 -2.4z"/><path d="M575.82 206.6l1.7 2.4l-1.7 2.4l-1.7 -2.4z"/><path d="M579.06 206.6l1.7 2.4l-1.7 2.4l-1.7 -2.4z"/><path d="M582.3 206.6l1.7 2.4l-1.7 2.4l-1.7 -2.4z"/><path d="M585.54 206.6l1.7 2.4l-1.7 2.4l-1.7 -2.4z"/><path d="M588.78 206.6l1.7 2.4l-1.7 2.4l-1.7 -2.4z"/><path d="M592.02 206.6l1.7 2.4l-1.7 2.4l-1.7 -2.4z"/><path d="M595.25 206.6l1.7 2.4l-1.7 2.4l-1.7 -2.4z"/><path d="M598.49 206.6l1.7 2.4l-1.7 2.4l-1.7 -2.4z"/><path d="M601.73 206.6l1.7 2.4l-1.7 2.4l-1.7 -2.4z"/><path d="M604.97 206.6l1.7 2.4l-1.7 2.4l-1.7 -2.4z"/><path d="M608.21 206.6l1.7 2.4l-1.7 2.4l-1.7 -2.4z"/><path d="M611.45 206.6l1.7 2.4l-1.7 2.4l-1.7 -2.4z"/><path d="M614.69 206.6l1.7 2.4l-1.7 2.4l-1.7 -2.4z"/><path d="M617.93 206.6l1.7 2.4l-1.7 2.4l-1.7 -2.4z"/><path d="M621.17 206.6l1.7 2.4l-1.7 2.4l-1.7 -2.4z"/><path d="M624.41 206.6l1.7 2.4l-1.7 2.4l-1.7 -2.4z"/><path d="M627.64 206.6l1.7 2.4l-1.7 2.4l-1.7 -2.4z"/><path d="M630.88 206.6l1.7 2.4l-1.7 2.4l-1.7 -2.4z"/><path d="M634.12 206.6l1.7 2.4l-1.7 2.4l-1.7 -2.4z"/><path d="M637.36 206.6l1.7 2.4l-1.7 2.4l-1.7 -2.4z"/><path d="M640.6 206.6l1.7 2.4l-1.7 2.4l-1.7 -2.4z"/><path d="M643.84 206.6l1.7 2.4l-1.7 2.4l-1.7 -2.4z"/><path d="M647.08 206.6l1.7 2.4l-1.7 2.4l-1.7 -2.4z"/><path d="M650.32 206.6l1.7 2.4l-1.7 2.4l-1.7 -2.4z"/><path d="M653.56 206.6l1.7 2.4l-1.7 2.4l-1.7 -2.4z"/><path d="M656.8 206.6l1.7 2.4l-1.7 2.4l-1.7 -2.4z"/><path d="M660.03 206.6l1.7 2.4l-1.7 2.4l-1.7 -2.4z"/><path d="M663.27 206.6l1.7 2.4l-1.7 2.4l-1.7 -2.4z"/><path d="M666.51 206.6l1.7 2.4l-1.7 2.4l-1.7 -2.4z"/><path d="M669.75 206.6l1.7 2.4l-1.7 2.4l-1.7 -2.4z"/><path d="M672.99 206.6l1.7 2.4l-1.7 2.4l-1.7 -2.4z"/><path d="M676.23 206.6l1.7 2.4l-1.7 2.4l-1.7 -2.4z"/><path d="M679.47 206.6l1.7 2.4l-1.7 2.4l-1.7 -2.4z"/><path d="M682.71 206.6l1.7 2.4l-1.7 2.4l-1.7 -2.4z"/><path d="M685.95 206.6l1.7 2.4l-1.7 2.4l-1.7 -2.4z"/><path d="M689.19 206.6l1.7 2.4l-1.7 2.4l-1.7 -2.4z"/><path d="M692.42 206.6l1.7 2.4l-1.7 2.4l-1.7 -2.4z"/><path d="M695.66 206.6l1.7 2.4l-1.7 2.4l-1.7 -2.4z"/><path d="M698.9 206.6l1.7 2.4l-1.7 2.4l-1.7 -2.4z"/><path d="M702.14 206.6l1.7 2.4l-1.7 2.4l-1.7 -2.4z"/><path d="M705.38 206.6l1.7 2.4l-1.7 2.4l-1.7 -2.4z"/><path d="M708.62 206.6l1.7 2.4l-1.7 2.4l-1.7 -2.4z"/><path d="M711.86 206.6l1.7 2.4l-1.7 2.4l-1.7 -2.4z"/><path d="M715.1 206.6l1.7 2.4l-1.7 2.4l-1.7 -2.4z"/><path d="M718.34 206.6l1.7 2.4l-1.7 2.4l-1.7 -2.4z"/><path d="M721.58 206.6l1.7 2.4l-1.7 2.4l-1.7 -2.4z"/><path d="M724.81 206.6l1.7 2.4l-1.7 2.4l-1.7 -2.4z"/><path d="M728.05 206.6l1.7 2.4l-1.7 2.4l-1.7 -2.4z"/><path d="M731.29 206.6l1.7 2.4l-1.7 2.4l-1.7 -2.4z"/><path d="M734.53 206.6l1.7 2.4l-1.7 2.4l-1.7 -2.4z"/><path d="M737.77 206.6l1.7 2.4l-1.7 2.4l-1.7 -2.4z"/><path d="M741.01 206.6l1.7 2.4l-1.7 2.4l-1.7 -2.4z"/><path d="M744.25 206.6l1.7 2.4l-1.7 2.4l-1.7 -2.4z"/><path d="M747.49 206.6l1.7 2.4l-1.7 2.4l-1.7 -2.4z"/><path d="M750.73 206.6l1.7 2.4l-1.7 2.4l-1.7 -2.4z"/><path d="M753.97 206.6l1.7 2.4l-1.7 2.4l-1.7 -2.4z"/><path d="M757.2 206.6l1.7 2.4l-1.7 2.4l-1.7 -2.4z"/><path d="M760.44 206.6l1.7 2.4l-1.7 2.4l-1.7 -2.4z"/><path d="M763.68 206.6l1.7 2.4l-1.7 2.4l-1.7 -2.4z"/><path d="M766.92 206.6l1.7 2.4l-1.7 2.4l-1.7 -2.4z"/><path d="M770.16 206.6l1.7 2.4l-1.7 2.4l-1.7 -2.4z"/><path d="M773.4 206.6l1.7 2.4l-1.7 2.4l-1.7 -2.4z"/></g>
<polyline points="260.74,291.1 263.99,291.1 267.23,291.1 270.48,394 273.72,394 276.96,394 280.21,394 283.45,394 286.7,394 289.94,394 293.18,394 296.43,404.6 299.67,404.6 302.92,404.6 306.16,409.1 309.4,409.1 312.65,409.1 315.89,409.1 319.14,409.1 322.38,409.1 325.62,409.1 328.87,409.1 332.11,453.1 335.36,453.1 338.6,453.1 341.84,453.1 345.09,453.1 348.33,453.1 351.58,453.1 354.82,453.1 358.06,453.1 361.31,453.1 364.55,453.1 367.8,453.1 371.04,453.1 374.28,453.1 377.53,453.1 380.77,453.1 384.02,474.7 387.26,474.7 390.5,474.7 393.75,474.7 396.99,474.7 400.24,474.7 403.48,474.7 406.72,474.7 409.97,474.7 413.21,474.7 416.46,474.7 419.7,474.7 422.94,474.7 426.19,474.7 429.43,474.7 432.68,474.7 435.92,474.7 439.16,474.7 442.41,474.7 445.65,474.7 448.9,474.7 452.14,474.7 455.38,474.7 458.63,474.7 461.87,474.7 465.12,474.7 468.36,474.7 471.6,474.7 474.85,474.7 478.09,474.7 481.34,474.7 484.58,474.7 487.82,474.7 491.07,474.7 494.31,474.7 497.56,474.7 500.8,474.7 504.04,474.7 507.29,474.7 510.53,474.7 513.78,474.7 517.02,474.7 520.26,474.7 523.51,474.7 526.75,474.7 530,474.7 533.24,474.7 536.48,474.7 539.73,474.7 542.97,474.7 546.22,474.7 549.46,474.7 552.7,474.7 555.95,474.7 559.19,474.7 562.44,474.7 565.68,474.7 568.92,474.7 572.17,474.7 575.41,474.7 578.66,474.7 581.9,474.7" fill="none" stroke="#0072BD" stroke-width="1" stroke-linejoin="round"/>
<path d="M258.54 288.9L262.94 293.3M258.54 293.3L262.94 288.9M261.79 288.9L266.19 293.3M261.79 293.3L266.19 288.9M265.03 288.9L269.43 293.3M265.03 293.3L269.43 288.9M268.28 391.8L272.68 396.2M268.28 396.2L272.68 391.8M271.52 391.8L275.92 396.2M271.52 396.2L275.92 391.8M274.76 391.8L279.16 396.2M274.76 396.2L279.16 391.8M278.01 391.8L282.41 396.2M278.01 396.2L282.41 391.8M281.25 391.8L285.65 396.2M281.25 396.2L285.65 391.8M284.5 391.8L288.9 396.2M284.5 396.2L288.9 391.8M287.74 391.8L292.14 396.2M287.74 396.2L292.14 391.8M290.98 391.8L295.38 396.2M290.98 396.2L295.38 391.8M294.23 402.4L298.63 406.8M294.23 406.8L298.63 402.4M297.47 402.4L301.87 406.8M297.47 406.8L301.87 402.4M300.72 402.4L305.12 406.8M300.72 406.8L305.12 402.4M303.96 406.9L308.36 411.3M303.96 411.3L308.36 406.9M307.2 406.9L311.6 411.3M307.2 411.3L311.6 406.9M310.45 406.9L314.85 411.3M310.45 411.3L314.85 406.9M313.69 406.9L318.09 411.3M313.69 411.3L318.09 406.9M316.94 406.9L321.34 411.3M316.94 411.3L321.34 406.9M320.18 406.9L324.58 411.3M320.18 411.3L324.58 406.9M323.42 406.9L327.82 411.3M323.42 411.3L327.82 406.9M326.67 406.9L331.07 411.3M326.67 411.3L331.07 406.9M329.91 450.9L334.31 455.3M329.91 455.3L334.31 450.9M333.16 450.9L337.56 455.3M333.16 455.3L337.56 450.9M336.4 450.9L340.8 455.3M336.4 455.3L340.8 450.9M339.64 450.9L344.04 455.3M339.64 455.3L344.04 450.9M342.89 450.9L347.29 455.3M342.89 455.3L347.29 450.9M346.13 450.9L350.53 455.3M346.13 455.3L350.53 450.9M349.38 450.9L353.78 455.3M349.38 455.3L353.78 450.9M352.62 450.9L357.02 455.3M352.62 455.3L357.02 450.9M355.86 450.9L360.26 455.3M355.86 455.3L360.26 450.9M359.11 450.9L363.51 455.3M359.11 455.3L363.51 450.9M362.35 450.9L366.75 455.3M362.35 455.3L366.75 450.9M365.6 450.9L370 455.3M365.6 455.3L370 450.9M368.84 450.9L373.24 455.3M368.84 455.3L373.24 450.9M372.08 450.9L376.48 455.3M372.08 455.3L376.48 450.9M375.33 450.9L379.73 455.3M375.33 455.3L379.73 450.9M378.57 450.9L382.97 455.3M378.57 455.3L382.97 450.9M381.82 472.5L386.22 476.9M381.82 476.9L386.22 472.5M385.06 472.5L389.46 476.9M385.06 476.9L389.46 472.5M388.3 472.5L392.7 476.9M388.3 476.9L392.7 472.5M391.55 472.5L395.95 476.9M391.55 476.9L395.95 472.5M394.79 472.5L399.19 476.9M394.79 476.9L399.19 472.5M398.04 472.5L402.44 476.9M398.04 476.9L402.44 472.5M401.28 472.5L405.68 476.9M401.28 476.9L405.68 472.5M404.52 472.5L408.92 476.9M404.52 476.9L408.92 472.5M407.77 472.5L412.17 476.9M407.77 476.9L412.17 472.5M411.01 472.5L415.41 476.9M411.01 476.9L415.41 472.5M414.26 472.5L418.66 476.9M414.26 476.9L418.66 472.5M417.5 472.5L421.9 476.9M417.5 476.9L421.9 472.5M420.74 472.5L425.14 476.9M420.74 476.9L425.14 472.5M423.99 472.5L428.39 476.9M423.99 476.9L428.39 472.5M427.23 472.5L431.63 476.9M427.23 476.9L431.63 472.5M430.48 472.5L434.88 476.9M430.48 476.9L434.88 472.5M433.72 472.5L438.12 476.9M433.72 476.9L438.12 472.5M436.96 472.5L441.36 476.9M436.96 476.9L441.36 472.5M440.21 472.5L444.61 476.9M440.21 476.9L444.61 472.5M443.45 472.5L447.85 476.9M443.45 476.9L447.85 472.5M446.7 472.5L451.1 476.9M446.7 476.9L451.1 472.5M449.94 472.5L454.34 476.9M449.94 476.9L454.34 472.5M453.18 472.5L457.58 476.9M453.18 476.9L457.58 472.5M456.43 472.5L460.83 476.9M456.43 476.9L460.83 472.5M459.67 472.5L464.07 476.9M459.67 476.9L464.07 472.5M462.92 472.5L467.32 476.9M462.92 476.9L467.32 472.5M466.16 472.5L470.56 476.9M466.16 476.9L470.56 472.5M469.4 472.5L473.8 476.9M469.4 476.9L473.8 472.5M472.65 472.5L477.05 476.9M472.65 476.9L477.05 472.5M475.89 472.5L480.29 476.9M475.89 476.9L480.29 472.5M479.14 472.5L483.54 476.9M479.14 476.9L483.54 472.5M482.38 472.5L486.78 476.9M482.38 476.9L486.78 472.5M485.62 472.5L490.02 476.9M485.62 476.9L490.02 472.5M488.87 472.5L493.27 476.9M488.87 476.9L493.27 472.5M492.11 472.5L496.51 476.9M492.11 476.9L496.51 472.5M495.36 472.5L499.76 476.9M495.36 476.9L499.76 472.5M498.6 472.5L503 476.9M498.6 476.9L503 472.5M501.84 472.5L506.24 476.9M501.84 476.9L506.24 472.5M505.09 472.5L509.49 476.9M505.09 476.9L509.49 472.5M508.33 472.5L512.73 476.9M508.33 476.9L512.73 472.5M511.58 472.5L515.98 476.9M511.58 476.9L515.98 472.5M514.82 472.5L519.22 476.9M514.82 476.9L519.22 472.5M518.06 472.5L522.46 476.9M518.06 476.9L522.46 472.5M521.31 472.5L525.71 476.9M521.31 476.9L525.71 472.5M524.55 472.5L528.95 476.9M524.55 476.9L528.95 472.5M527.8 472.5L532.2 476.9M527.8 476.9L532.2 472.5M531.04 472.5L535.44 476.9M531.04 476.9L535.44 472.5M534.28 472.5L538.68 476.9M534.28 476.9L538.68 472.5M537.53 472.5L541.93 476.9M537.53 476.9L541.93 472.5M540.77 472.5L545.17 476.9M540.77 476.9L545.17 472.5M544.02 472.5L548.42 476.9M544.02 476.9L548.42 472.5M547.26 472.5L551.66 476.9M547.26 476.9L551.66 472.5M550.5 472.5L554.9 476.9M550.5 476.9L554.9 472.5M553.75 472.5L558.15 476.9M553.75 476.9L558.15 472.5M556.99 472.5L561.39 476.9M556.99 476.9L561.39 472.5M560.24 472.5L564.64 476.9M560.24 476.9L564.64 472.5M563.48 472.5L567.88 476.9M563.48 476.9L567.88 472.5M566.72 472.5L571.12 476.9M566.72 476.9L571.12 472.5M569.97 472.5L574.37 476.9M569.97 476.9L574.37 472.5M573.21 472.5L577.61 476.9M573.21 476.9L577.61 472.5M576.46 472.5L580.86 476.9M576.46 476.9L580.86 472.5M579.7 472.5L584.1 476.9M579.7 476.9L584.1 472.5" fill="none" stroke="#0072BD" stroke-width="1.15"/>
<polyline points="260.74,482.6 263.99,485 267.23,486 270.48,486.9 273.72,486.9 276.96,486.9 280.21,486.9 283.45,486.9 286.7,486.9 289.94,486.9 293.18,486.9 296.43,486.9 299.67,486.9 302.92,486.9 306.16,486.9 309.4,486.9 312.65,486.9 315.89,486.9 319.14,486.9 322.38,486.9 325.62,486.9 328.87,486.9 332.11,486.9 335.36,486.9 338.6,486.9 341.84,486.9 345.09,486.9 348.33,486.9 351.58,486.9 354.82,486.9 358.06,486.9 361.31,486.9 364.55,486.9 367.8,486.9 371.04,486.9 374.28,486.9 377.53,486.9 380.77,486.9 384.02,486.9 387.26,486.9 390.5,486.9 393.75,486.9 396.99,486.9 400.24,486.9 403.48,486.9 406.72,486.9 409.97,486.9 413.21,486.9 416.46,486.9 419.7,486.9 422.94,486.9 426.19,486.9 429.43,486.9 432.68,486.9 435.92,486.9 439.16,486.9 442.41,486.9 445.65,486.9 448.9,486.9 452.14,486.9 455.38,486.9 458.63,486.9 461.87,486.9 465.12,486.9 468.36,486.9 471.6,486.9 474.85,486.9 478.09,486.9 481.34,486.9 484.58,486.9 487.82,486.9 491.07,486.9 494.31,486.9 497.56,486.9 500.8,486.9 504.04,486.9 507.29,486.9 510.53,486.9 513.78,486.9 517.02,486.9 520.26,486.9 523.51,486.9 526.75,486.9 530,486.9 533.24,486.9 536.48,486.9 539.73,486.9 542.97,486.9 546.22,486.9 549.46,486.9 552.7,486.9 555.95,486.9 559.19,486.9 562.44,486.9 565.68,486.9 568.92,486.9 572.17,486.9 575.41,486.9 578.66,486.9 581.9,486.9" fill="none" stroke="#D95319" stroke-width="1" stroke-linejoin="round"/>
<g fill="#fff" stroke="#D95319" stroke-width="1.2" stroke-linejoin="round"><path d="M260.74 480.2l1.7 2.4l-1.7 2.4l-1.7 -2.4z"/><path d="M263.99 482.6l1.7 2.4l-1.7 2.4l-1.7 -2.4z"/><path d="M267.23 483.6l1.7 2.4l-1.7 2.4l-1.7 -2.4z"/><path d="M270.48 484.5l1.7 2.4l-1.7 2.4l-1.7 -2.4z"/><path d="M273.72 484.5l1.7 2.4l-1.7 2.4l-1.7 -2.4z"/><path d="M276.96 484.5l1.7 2.4l-1.7 2.4l-1.7 -2.4z"/><path d="M280.21 484.5l1.7 2.4l-1.7 2.4l-1.7 -2.4z"/><path d="M283.45 484.5l1.7 2.4l-1.7 2.4l-1.7 -2.4z"/><path d="M286.7 484.5l1.7 2.4l-1.7 2.4l-1.7 -2.4z"/><path d="M289.94 484.5l1.7 2.4l-1.7 2.4l-1.7 -2.4z"/><path d="M293.18 484.5l1.7 2.4l-1.7 2.4l-1.7 -2.4z"/><path d="M296.43 484.5l1.7 2.4l-1.7 2.4l-1.7 -2.4z"/><path d="M299.67 484.5l1.7 2.4l-1.7 2.4l-1.7 -2.4z"/><path d="M302.92 484.5l1.7 2.4l-1.7 2.4l-1.7 -2.4z"/><path d="M306.16 484.5l1.7 2.4l-1.7 2.4l-1.7 -2.4z"/><path d="M309.4 484.5l1.7 2.4l-1.7 2.4l-1.7 -2.4z"/><path d="M312.65 484.5l1.7 2.4l-1.7 2.4l-1.7 -2.4z"/><path d="M315.89 484.5l1.7 2.4l-1.7 2.4l-1.7 -2.4z"/><path d="M319.14 484.5l1.7 2.4l-1.7 2.4l-1.7 -2.4z"/><path d="M322.38 484.5l1.7 2.4l-1.7 2.4l-1.7 -2.4z"/><path d="M325.62 484.5l1.7 2.4l-1.7 2.4l-1.7 -2.4z"/><path d="M328.87 484.5l1.7 2.4l-1.7 2.4l-1.7 -2.4z"/><path d="M332.11 484.5l1.7 2.4l-1.7 2.4l-1.7 -2.4z"/><path d="M335.36 484.5l1.7 2.4l-1.7 2.4l-1.7 -2.4z"/><path d="M338.6 484.5l1.7 2.4l-1.7 2.4l-1.7 -2.4z"/><path d="M341.84 484.5l1.7 2.4l-1.7 2.4l-1.7 -2.4z"/><path d="M345.09 484.5l1.7 2.4l-1.7 2.4l-1.7 -2.4z"/><path d="M348.33 484.5l1.7 2.4l-1.7 2.4l-1.7 -2.4z"/><path d="M351.58 484.5l1.7 2.4l-1.7 2.4l-1.7 -2.4z"/><path d="M354.82 484.5l1.7 2.4l-1.7 2.4l-1.7 -2.4z"/><path d="M358.06 484.5l1.7 2.4l-1.7 2.4l-1.7 -2.4z"/><path d="M361.31 484.5l1.7 2.4l-1.7 2.4l-1.7 -2.4z"/><path d="M364.55 484.5l1.7 2.4l-1.7 2.4l-1.7 -2.4z"/><path d="M367.8 484.5l1.7 2.4l-1.7 2.4l-1.7 -2.4z"/><path d="M371.04 484.5l1.7 2.4l-1.7 2.4l-1.7 -2.4z"/><path d="M374.28 484.5l1.7 2.4l-1.7 2.4l-1.7 -2.4z"/><path d="M377.53 484.5l1.7 2.4l-1.7 2.4l-1.7 -2.4z"/><path d="M380.77 484.5l1.7 2.4l-1.7 2.4l-1.7 -2.4z"/><path d="M384.02 484.5l1.7 2.4l-1.7 2.4l-1.7 -2.4z"/><path d="M387.26 484.5l1.7 2.4l-1.7 2.4l-1.7 -2.4z"/><path d="M390.5 484.5l1.7 2.4l-1.7 2.4l-1.7 -2.4z"/><path d="M393.75 484.5l1.7 2.4l-1.7 2.4l-1.7 -2.4z"/><path d="M396.99 484.5l1.7 2.4l-1.7 2.4l-1.7 -2.4z"/><path d="M400.24 484.5l1.7 2.4l-1.7 2.4l-1.7 -2.4z"/><path d="M403.48 484.5l1.7 2.4l-1.7 2.4l-1.7 -2.4z"/><path d="M406.72 484.5l1.7 2.4l-1.7 2.4l-1.7 -2.4z"/><path d="M409.97 484.5l1.7 2.4l-1.7 2.4l-1.7 -2.4z"/><path d="M413.21 484.5l1.7 2.4l-1.7 2.4l-1.7 -2.4z"/><path d="M416.46 484.5l1.7 2.4l-1.7 2.4l-1.7 -2.4z"/><path d="M419.7 484.5l1.7 2.4l-1.7 2.4l-1.7 -2.4z"/><path d="M422.94 484.5l1.7 2.4l-1.7 2.4l-1.7 -2.4z"/><path d="M426.19 484.5l1.7 2.4l-1.7 2.4l-1.7 -2.4z"/><path d="M429.43 484.5l1.7 2.4l-1.7 2.4l-1.7 -2.4z"/><path d="M432.68 484.5l1.7 2.4l-1.7 2.4l-1.7 -2.4z"/><path d="M435.92 484.5l1.7 2.4l-1.7 2.4l-1.7 -2.4z"/><path d="M439.16 484.5l1.7 2.4l-1.7 2.4l-1.7 -2.4z"/><path d="M442.41 484.5l1.7 2.4l-1.7 2.4l-1.7 -2.4z"/><path d="M445.65 484.5l1.7 2.4l-1.7 2.4l-1.7 -2.4z"/><path d="M448.9 484.5l1.7 2.4l-1.7 2.4l-1.7 -2.4z"/><path d="M452.14 484.5l1.7 2.4l-1.7 2.4l-1.7 -2.4z"/><path d="M455.38 484.5l1.7 2.4l-1.7 2.4l-1.7 -2.4z"/><path d="M458.63 484.5l1.7 2.4l-1.7 2.4l-1.7 -2.4z"/><path d="M461.87 484.5l1.7 2.4l-1.7 2.4l-1.7 -2.4z"/><path d="M465.12 484.5l1.7 2.4l-1.7 2.4l-1.7 -2.4z"/><path d="M468.36 484.5l1.7 2.4l-1.7 2.4l-1.7 -2.4z"/><path d="M471.6 484.5l1.7 2.4l-1.7 2.4l-1.7 -2.4z"/><path d="M474.85 484.5l1.7 2.4l-1.7 2.4l-1.7 -2.4z"/><path d="M478.09 484.5l1.7 2.4l-1.7 2.4l-1.7 -2.4z"/><path d="M481.34 484.5l1.7 2.4l-1.7 2.4l-1.7 -2.4z"/><path d="M484.58 484.5l1.7 2.4l-1.7 2.4l-1.7 -2.4z"/><path d="M487.82 484.5l1.7 2.4l-1.7 2.4l-1.7 -2.4z"/><path d="M491.07 484.5l1.7 2.4l-1.7 2.4l-1.7 -2.4z"/><path d="M494.31 484.5l1.7 2.4l-1.7 2.4l-1.7 -2.4z"/><path d="M497.56 484.5l1.7 2.4l-1.7 2.4l-1.7 -2.4z"/><path d="M500.8 484.5l1.7 2.4l-1.7 2.4l-1.7 -2.4z"/><path d="M504.04 484.5l1.7 2.4l-1.7 2.4l-1.7 -2.4z"/><path d="M507.29 484.5l1.7 2.4l-1.7 2.4l-1.7 -2.4z"/><path d="M510.53 484.5l1.7 2.4l-1.7 2.4l-1.7 -2.4z"/><path d="M513.78 484.5l1.7 2.4l-1.7 2.4l-1.7 -2.4z"/><path d="M517.02 484.5l1.7 2.4l-1.7 2.4l-1.7 -2.4z"/><path d="M520.26 484.5l1.7 2.4l-1.7 2.4l-1.7 -2.4z"/><path d="M523.51 484.5l1.7 2.4l-1.7 2.4l-1.7 -2.4z"/><path d="M526.75 484.5l1.7 2.4l-1.7 2.4l-1.7 -2.4z"/><path d="M530 484.5l1.7 2.4l-1.7 2.4l-1.7 -2.4z"/><path d="M533.24 484.5l1.7 2.4l-1.7 2.4l-1.7 -2.4z"/><path d="M536.48 484.5l1.7 2.4l-1.7 2.4l-1.7 -2.4z"/><path d="M539.73 484.5l1.7 2.4l-1.7 2.4l-1.7 -2.4z"/><path d="M542.97 484.5l1.7 2.4l-1.7 2.4l-1.7 -2.4z"/><path d="M546.22 484.5l1.7 2.4l-1.7 2.4l-1.7 -2.4z"/><path d="M549.46 484.5l1.7 2.4l-1.7 2.4l-1.7 -2.4z"/><path d="M552.7 484.5l1.7 2.4l-1.7 2.4l-1.7 -2.4z"/><path d="M555.95 484.5l1.7 2.4l-1.7 2.4l-1.7 -2.4z"/><path d="M559.19 484.5l1.7 2.4l-1.7 2.4l-1.7 -2.4z"/><path d="M562.44 484.5l1.7 2.4l-1.7 2.4l-1.7 -2.4z"/><path d="M565.68 484.5l1.7 2.4l-1.7 2.4l-1.7 -2.4z"/><path d="M568.92 484.5l1.7 2.4l-1.7 2.4l-1.7 -2.4z"/><path d="M572.17 484.5l1.7 2.4l-1.7 2.4l-1.7 -2.4z"/><path d="M575.41 484.5l1.7 2.4l-1.7 2.4l-1.7 -2.4z"/><path d="M578.66 484.5l1.7 2.4l-1.7 2.4l-1.7 -2.4z"/><path d="M581.9 484.5l1.7 2.4l-1.7 2.4l-1.7 -2.4z"/></g>
</g>
<g filter="url(#fd)">
<path d="M65.5 209.6V206M65.5 7.6V11.2M97.99 209.6V206M97.99 7.6V11.2M130.48 209.6V206M130.48 7.6V11.2M162.97 209.6V206M162.97 7.6V11.2M195.46 209.6V206M195.46 7.6V11.2M227.95 209.6V206M227.95 7.6V11.2M260.44 209.6V206M260.44 7.6V11.2M292.93 209.6V206M292.93 7.6V11.2M325.42 209.6V206M325.42 7.6V11.2M357.91 209.6V206M357.91 7.6V11.2M390.4 209.6V206M390.4 7.6V11.2M65.5 7.6H69.1M390.4 7.6H386.8M65.5 41.27H69.1M390.4 41.27H386.8M65.5 74.93H69.1M390.4 74.93H386.8M65.5 108.6H69.1M390.4 108.6H386.8M65.5 142.27H69.1M390.4 142.27H386.8M65.5 175.93H69.1M390.4 175.93H386.8M65.5 209.6H69.1M390.4 209.6H386.8" fill="none" stroke="#262626" stroke-width="1"/>
<path d="M449.5 209.2V205.6M449.5 7.4V11M481.89 209.2V205.6M481.89 7.4V11M514.28 209.2V205.6M514.28 7.4V11M546.67 209.2V205.6M546.67 7.4V11M579.06 209.2V205.6M579.06 7.4V11M611.45 209.2V205.6M611.45 7.4V11M643.84 209.2V205.6M643.84 7.4V11M676.23 209.2V205.6M676.23 7.4V11M708.62 209.2V205.6M708.62 7.4V11M741.01 209.2V205.6M741.01 7.4V11M773.4 209.2V205.6M773.4 7.4V11M449.5 7.4H453.1M773.4 7.4H769.8M449.5 27.58H453.1M773.4 27.58H769.8M449.5 47.76H453.1M773.4 47.76H769.8M449.5 67.94H453.1M773.4 67.94H769.8M449.5 88.12H453.1M773.4 88.12H769.8M449.5 108.3H453.1M773.4 108.3H769.8M449.5 128.48H453.1M773.4 128.48H769.8M449.5 148.66H453.1M773.4 148.66H769.8M449.5 168.84H453.1M773.4 168.84H769.8M449.5 189.02H453.1M773.4 189.02H769.8M449.5 209.2H453.1M773.4 209.2H769.8" fill="none" stroke="#262626" stroke-width="1"/>
<path d="M257.5 487.3V483.7M257.5 285V288.6M289.94 487.3V483.7M289.94 285V288.6M322.38 487.3V483.7M322.38 285V288.6M354.82 487.3V483.7M354.82 285V288.6M387.26 487.3V483.7M387.26 285V288.6M419.7 487.3V483.7M419.7 285V288.6M452.14 487.3V483.7M452.14 285V288.6M484.58 487.3V483.7M484.58 285V288.6M517.02 487.3V483.7M517.02 285V288.6M549.46 487.3V483.7M549.46 285V288.6M581.9 487.3V483.7M581.9 285V288.6M257.5 487.3H261.1M581.9 487.3H578.3M257.5 467.07H261.1M581.9 467.07H578.3M257.5 446.84H261.1M581.9 446.84H578.3M257.5 426.61H261.1M581.9 426.61H578.3M257.5 406.38H261.1M581.9 406.38H578.3M257.5 386.15H261.1M581.9 386.15H578.3M257.5 365.92H261.1M581.9 365.92H578.3M257.5 345.69H261.1M581.9 345.69H578.3M257.5 325.46H261.1M581.9 325.46H578.3M257.5 305.23H261.1M581.9 305.23H578.3M257.5 285H261.1M581.9 285H578.3" fill="none" stroke="#262626" stroke-width="1"/>
</g>
<rect x="316.5" y="43.1" width="61.2" height="26.3" fill="#fff" stroke="#3a3a3a" stroke-width="1.1"/>
<path d="M322.2 50.2H349.4" stroke="#2a8ad0" stroke-width="1.3"/>
<path d="M334.5 47.7L338.5 52.7M334.5 52.7L338.5 47.7" stroke="#0072BD" stroke-width="1.2"/>
<path d="M322.2 61.8H349.4" stroke="#D95319" stroke-width="1.2"/>
<path d="M336.5 58.3L338.6 61.8L336.5 65.3L334.4 61.8Z" fill="none" stroke="#D95319" stroke-width="1"/>
<rect x="702" y="37.2" width="61.2" height="26.3" fill="#fff" stroke="#3a3a3a" stroke-width="1.1"/>
<path d="M707.7 44.3H734.9" stroke="#2a8ad0" stroke-width="1.3"/>
<path d="M720 41.8L724 46.8M720 46.8L724 41.8" stroke="#0072BD" stroke-width="1.2"/>
<path d="M707.7 55.9H734.9" stroke="#D95319" stroke-width="1.2"/>
<path d="M722 52.4L724.1 55.9L722 59.4L719.9 55.9Z" fill="none" stroke="#D95319" stroke-width="1"/>
<rect x="512.4" y="307.2" width="61.2" height="26.3" fill="#fff" stroke="#3a3a3a" stroke-width="1.1"/>
<path d="M518.1 314.3H545.3" stroke="#2a8ad0" stroke-width="1.3"/>
<path d="M530.4 311.8L534.4 316.8M530.4 316.8L534.4 311.8" stroke="#0072BD" stroke-width="1.2"/>
<path d="M518.1 325.9H545.3" stroke="#D95319" stroke-width="1.2"/>
<path d="M532.4 322.4L534.5 325.9L532.4 329.4L530.3 325.9Z" fill="none" stroke="#D95319" stroke-width="1"/>
<g fill="#262626" stroke="#262626" stroke-width="0.25">
<text x="64.2" y="222.8" text-anchor="middle" font-size="10.3">0</text>
<text x="97.99" y="222.8" text-anchor="middle" font-size="10.3">10</text>
<text x="130.48" y="222.8" text-anchor="middle" font-size="10.3">20</text>
<text x="162.97" y="222.8" text-anchor="middle" font-size="10.3">30</text>
<text x="195.46" y="222.8" text-anchor="middle" font-size="10.3">40</text>
<text x="227.95" y="222.8" text-anchor="middle" font-size="10.3">50</text>
<text x="260.44" y="222.8" text-anchor="middle" font-size="10.3">60</text>
<text x="292.93" y="222.8" text-anchor="middle" font-size="10.3">70</text>
<text x="325.42" y="222.8" text-anchor="middle" font-size="10.3">80</text>
<text x="357.91" y="222.8" text-anchor="middle" font-size="10.3">90</text>
<text x="391.1" y="222.8" text-anchor="middle" font-size="10.3">100</text>
<text x="61.9" y="10.8" text-anchor="end" font-size="10.3">15.4564</text>
<text x="61.9" y="44.47" text-anchor="end" font-size="10.3">15.4564</text>
<text x="61.9" y="78.13" text-anchor="end" font-size="10.3">15.4564</text>
<text x="61.9" y="111.8" text-anchor="end" font-size="10.3">15.4564</text>
<text x="61.9" y="145.47" text-anchor="end" font-size="10.3">15.4564</text>
<text x="61.9" y="179.13" text-anchor="end" font-size="10.3">15.4564</text>
<text x="61.9" y="212.8" text-anchor="end" font-size="10.3">15.4564</text>
<text x="232.2" y="240" text-anchor="middle" font-size="12.9">Number of Iterations</text>
<text transform="translate(11.3 105.7) rotate(-90)" text-anchor="middle" font-size="12.9">Global Fitness Function</text>
<text x="352.1" y="53.7" font-size="8.2">BSA</text>
<text x="352.1" y="65.4" font-size="8.2">ABSA</text>
<text transform="translate(232.1 256.7) scale(1.07 1)" text-anchor="middle" font-family="'Liberation Serif', 'Times New Roman', serif" font-weight="bold" font-size="15" fill="#000" stroke="none">(a)</text>
<text x="447.8" y="222.1" text-anchor="middle" font-size="10.3">0</text>
<text x="481.89" y="222.1" text-anchor="middle" font-size="10.3">10</text>
<text x="514.28" y="222.1" text-anchor="middle" font-size="10.3">20</text>
<text x="546.67" y="222.1" text-anchor="middle" font-size="10.3">30</text>
<text x="579.06" y="222.1" text-anchor="middle" font-size="10.3">40</text>
<text x="611.45" y="222.1" text-anchor="middle" font-size="10.3">50</text>
<text x="643.84" y="222.1" text-anchor="middle" font-size="10.3">60</text>
<text x="676.23" y="222.1" text-anchor="middle" font-size="10.3">70</text>
<text x="708.62" y="222.1" text-anchor="middle" font-size="10.3">80</text>
<text x="741.01" y="222.1" text-anchor="middle" font-size="10.3">90</text>
<text x="774.7" y="222.1" text-anchor="middle" font-size="10.3">100</text>
<text x="445.9" y="10.6" text-anchor="end" font-size="10.3">0</text>
<text x="445.9" y="30.78" text-anchor="end" font-size="10.3">-0.1</text>
<text x="445.9" y="50.96" text-anchor="end" font-size="10.3">-0.2</text>
<text x="445.9" y="71.14" text-anchor="end" font-size="10.3">-0.3</text>
<text x="445.9" y="91.32" text-anchor="end" font-size="10.3">-0.4</text>
<text x="445.9" y="111.5" text-anchor="end" font-size="10.3">-0.5</text>
<text x="445.9" y="131.68" text-anchor="end" font-size="10.3">-0.6</text>
<text x="445.9" y="151.86" text-anchor="end" font-size="10.3">-0.7</text>
<text x="445.9" y="172.04" text-anchor="end" font-size="10.3">-0.8</text>
<text x="445.9" y="192.22" text-anchor="end" font-size="10.3">-0.9</text>
<text x="445.9" y="212.4" text-anchor="end" font-size="10.3">-1</text>
<text x="616" y="239" text-anchor="middle" font-size="12.9">Number of Iterations</text>
<text transform="translate(420.3 109.4) rotate(-90)" text-anchor="middle" font-size="12.9">Global Fitness Function</text>
<text x="737.6" y="47.8" font-size="8.2">BSA</text>
<text x="737.6" y="59.5" font-size="8.2">ABSA</text>
<text transform="translate(626.5 256.7) scale(1.07 1)" text-anchor="middle" font-family="'Liberation Serif', 'Times New Roman', serif" font-weight="bold" font-size="15" fill="#000" stroke="none">(b)</text>
<text x="256" y="500.3" text-anchor="middle" font-size="10.3">0</text>
<text x="289.94" y="500.3" text-anchor="middle" font-size="10.3">10</text>
<text x="322.38" y="500.3" text-anchor="middle" font-size="10.3">20</text>
<text x="354.82" y="500.3" text-anchor="middle" font-size="10.3">30</text>
<text x="387.26" y="500.3" text-anchor="middle" font-size="10.3">40</text>
<text x="419.7" y="500.3" text-anchor="middle" font-size="10.3">50</text>
<text x="452.14" y="500.3" text-anchor="middle" font-size="10.3">60</text>
<text x="484.58" y="500.3" text-anchor="middle" font-size="10.3">70</text>
<text x="517.02" y="500.3" text-anchor="middle" font-size="10.3">80</text>
<text x="549.46" y="500.3" text-anchor="middle" font-size="10.3">90</text>
<text x="582.5" y="497.7" text-anchor="middle" font-size="6.5" fill="#666" stroke="none">100</text>
<text x="253.2" y="490.5" text-anchor="end" font-size="10.3">3</text>
<text x="253.2" y="470.27" text-anchor="end" font-size="10.3">3.01</text>
<text x="253.2" y="450.04" text-anchor="end" font-size="10.3">3.02</text>
<text x="253.2" y="429.81" text-anchor="end" font-size="10.3">3.03</text>
<text x="253.2" y="409.58" text-anchor="end" font-size="10.3">3.04</text>
<text x="253.2" y="389.35" text-anchor="end" font-size="10.3">3.05</text>
<text x="253.2" y="369.12" text-anchor="end" font-size="10.3">3.06</text>
<text x="253.2" y="348.89" text-anchor="end" font-size="10.3">3.07</text>
<text x="253.2" y="328.66" text-anchor="end" font-size="10.3">3.08</text>
<text x="253.2" y="308.43" text-anchor="end" font-size="10.3">3.09</text>
<text x="253.2" y="288.2" text-anchor="end" font-size="10.3">3.1</text>
<text x="424.05" y="517.6" text-anchor="middle" font-size="12.9">Number of Iterations</text>
<text transform="translate(222.4 382.9) rotate(-90)" text-anchor="middle" font-size="12.9">Global Fitness Function</text>
<text x="548" y="317.8" font-size="8.2">BSA</text>
<text x="548" y="329.5" font-size="8.2">ABSA</text>
<text transform="translate(424.8 531.9) scale(1.07 1)" text-anchor="middle" font-family="'Liberation Serif', 'Times New Roman', serif" font-weight="bold" font-size="15" fill="#000" stroke="none">(c)</text>
</g>
</svg></body></html>
